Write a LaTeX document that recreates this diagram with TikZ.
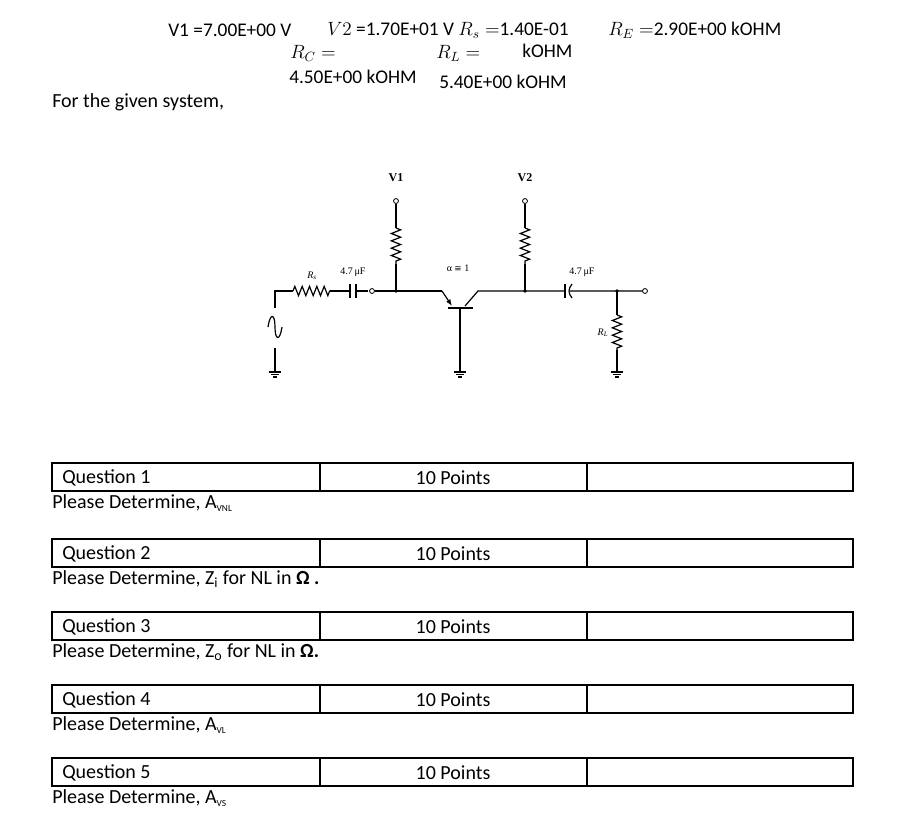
\documentclass[tikz,border=0pt]{standalone}
\usepackage{fontspec}
\setmainfont{Carlito}
\usetikzlibrary{decorations.pathmorphing,arrows.meta}
\newfontfamily\serifc{Liberation Serif}
\newfontfamily\dejav{DejaVu Sans}
\newcommand{\gndsym}[1]{\draw[wire] ($(#1)+(-6,0)$)--++(12,0) ($(#1)+(-4,2.5)$)--++(8,0) ($(#1)+(-2,5)$)--++(4,0);}
\usetikzlibrary{calc}
\begin{document}
\begin{tikzpicture}[x=0.75pt,y=-0.75pt,
  wire/.style={line width=0.9pt},
  res/.style={wire,decorate,decoration={zigzag,segment length=5.5,amplitude=3.5}},
  term/.style={circle,draw,line width=0.6pt,inner sep=1.3pt,fill=white},
  txt/.style={font=\fontsize{15}{17}\selectfont,inner sep=0},
  htxt/.style={font=\fontsize{14.5}{16}\selectfont,inner sep=0},
  sm/.style={font=\serifc\fontsize{7.5}{8}\selectfont,inner sep=0},
  qbox/.style={draw,line width=0.8pt}]
\useasboundingbox (0,0) rectangle (917,829);
% header
\node[htxt,anchor=west] (h1) at (168,30) {V1 =7.00E+00 V};
\node[htxt,anchor=west] (h2) at (327,30) {$V2$ =1.70E+01 V $R_s=$1.40E-01};
\node[htxt,anchor=west] (h3) at (608,30) {$R_E=$2.90E+00 kOHM};
\node[htxt,anchor=west] (h4) at (290,53) {$R_C=$};
\node[htxt,anchor=west] (h5) at (436,53) {$R_L=$};
\node[htxt,anchor=west] (h6) at (522,51) {kOHM};
\node[htxt,anchor=west] (h7) at (289,77) {4.50E+00 kOHM};
\node[htxt,anchor=west] (h8) at (439,82) {5.40E+00 kOHM};
\node[txt,anchor=west] (h9) at (52,102) {For the given system,};
% circuit
\coordinate (sTop) at (275,291);
\coordinate (sBot) at (275,372);
\coordinate (inT) at (372,291);
\coordinate (j1) at (396,291);
\coordinate (v1t) at (396,201);
\coordinate (eL) at (442,291);
\coordinate (bL) at (448,308);
\coordinate (bR) at (473,308);
\coordinate (bM) at (460,308);
\coordinate (cR) at (478,291);
\coordinate (gB) at (460,372);
\coordinate (j2) at (525,291);
\coordinate (v2t) at (525,201);
\coordinate (j3) at (617,291);
\coordinate (outT) at (645,291);
\coordinate (gL) at (617,372);
\draw[wire] (sBot)--(275,348);
\draw[wire] (275,308)--(sTop)--(293,291);
\draw[wire] (268,327) .. controls (270,313) and (275,313) .. (275,327) .. controls (275,341) and (280,341) .. (282,327);
\draw[res] (293,291)--(330,291);
\draw[wire] (330,291)--(350,291) (356,291)--(368,291);
\draw[wire] (350,284)--(350,298) (356,284)--(356,298);
\node[term] (tin) at (inT) {};
\draw[wire] (tin)--(j1)--(eL);
\draw[-{Latex[length=5pt]},wire] (eL)--(452,306);
\draw[line width=2pt] (bL)--(bR);
\draw[wire] (465,306)--(cR)--(j2)--(565,291) (570,291)--(j3)--(outT);
\draw[wire] (565,284)--(565,298);
\draw[wire] (572,284) .. controls (568,289) and (568,293) .. (572,298);
\node[term] (tout) at (outT) {};
\draw[wire] (bM)--(gB);
\node[term] (tv1) at (v1t) {};
\draw[wire] (tv1)--(396,228);\draw[res] (396,228)--(396,264);\draw[wire] (396,264)--(j1);
\node[term] (tv2) at (v2t) {};
\draw[wire] (tv2)--(525,228);\draw[res] (525,228)--(525,264);\draw[wire] (525,264)--(j2);
\draw[wire] (j3)--(617,315);\draw[res] (617,315)--(617,350);\draw[wire] (617,350)--(gL);
\fill (j1) circle (1.8) (j2) circle (1.8) (j3) circle (1.8);
\gndsym{sBot}\gndsym{gB}\gndsym{gL}
\node[sm,font=\serifc\bfseries\fontsize{9}{10}\selectfont] (lv1) at (396,178) {V1};
\node[sm,font=\serifc\bfseries\fontsize{9}{10}\selectfont] (lv2) at (525,178) {V2};
\node[sm] (lc1) at (353,272) {4.7\,μF};
\node[sm] (lc2) at (582,272) {4.7\,μF};
\node[sm] (lrs) at (312,276) {\textit{R\textsubscript{s}}};
\node[sm] (lrl) at (603,333) {\textit{R\textsubscript{L}}};
\node[sm] (la) at (458,268) {α {\dejav\fontsize{6.5}{7}\selectfont ≅} 1};
% questions
\foreach \y/\n/\s in {463/1/{Please Determine, A\textsubscript{\scriptsize VNL}},
                      539/2/{Please Determine, Z\textsubscript{i} for NL in \textbf{Ω .}},
                      612/3/{Please Determine, Z\textsubscript{o} for NL in \textbf{Ω.}},
                      685/4/{Please Determine, A\textsubscript{\scriptsize VL}},
                      758/5/{Please Determine, A\textsubscript{\scriptsize VS}}}{
  \draw[qbox] (52,\y) rectangle (853,\y+28);
  \draw[qbox] (320,\y)--(320,\y+28) (587,\y)--(587,\y+28);
  \node[txt,anchor=west] (q\n) at (62,\y+15) {Question \n};
  \node[txt] (p\n) at (453,\y+15) {10 Points};
  \node[txt,anchor=west] (d\n) at (52,\y+40) {\s};
}
\end{tikzpicture}
\end{document}
